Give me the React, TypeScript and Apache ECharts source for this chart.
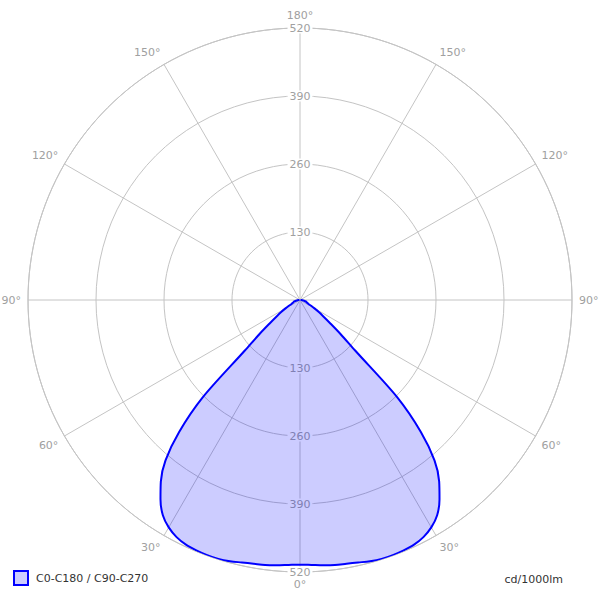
import React, { useEffect, useRef } from "react";
import * as echarts from "echarts";

// Gamma angles (deg, 0 = straight down) and luminous intensity (cd/1000lm)
const gammaAngles = [
  0, 2.5, 5, 7.5, 10, 12.5, 15, 17.5, 20, 22.5, 25, 27.5, 30, 32.5, 35, 37.5,
  40, 42.5, 45, 47.5, 50, 52.5, 55, 57.5, 60, 62.5, 65, 67.5, 70, 72.5, 75,
  77.5, 80, 82.5, 85, 87.5, 90,
];
const intensity = [
  506, 507, 509, 511, 512, 514, 517, 519, 519, 518, 516, 511, 502, 488, 465,
  437, 400, 342, 262, 143, 101, 72, 54, 42, 32, 24, 18, 16, 14, 13, 12, 10, 8,
  6, 5, 3, 1,
];
const radiusTicks = [0, 130, 260, 390, 520];
const seriesName = "C0-C180 / C90-C270";
const unitLabel = "cd/1000lm";

const FONT = "DejaVu Sans";

export default function App() {
  const ref = useRef<HTMLDivElement>(null);

  useEffect(() => {
    if (!ref.current) return;
    const chart = echarts.init(ref.current, undefined, { renderer: "svg" });

    // Build closed outline: left half (90 -> 0), then right half (mirrored)
    const data: [number, number][] = [];
    for (let i = gammaAngles.length - 1; i >= 0; i--) {
      data.push([intensity[i], gammaAngles[i]]);
    }
    for (let i = 1; i < gammaAngles.length; i++) {
      data.push([intensity[i], 360 - gammaAngles[i]]);
    }

    const rMax = radiusTicks[radiusTicks.length - 1];
    const rInt = radiusTicks[1] - radiusTicks[0];

    const gridColor = "#c4c4c4";
    const labelColor = "#a0a0a0";

    const radiusLabel = {
      margin: 0,
      align: "center",
      verticalAlign: "middle",
      color: labelColor,
      fontFamily: FONT,
      fontSize: 11,
      backgroundColor: "#ffffff",
      padding: [0, 2],
      showMinLabel: false,
      formatter: (v: number) => (v === 0 ? "" : String(v)),
    };

    chart.setOption({
      animation: false,
      backgroundColor: "#ffffff",
      polar: [
        { center: [300, 300], radius: 272 },
        { center: [300, 300], radius: 272 },
      ],
      angleAxis: [
        {
          polarIndex: 0,
          type: "value",
          min: 0,
          max: 360,
          interval: 30,
          startAngle: 270,
          clockwise: true,
          axisLine: { show: true, lineStyle: { color: gridColor, width: 1 } },
          axisTick: { show: false },
          splitLine: { show: true, lineStyle: { color: gridColor, width: 1 } },
          axisLabel: {
            margin: 7,
            color: labelColor,
            fontFamily: FONT,
            fontSize: 11,
            formatter: (v: number) => (v <= 180 ? v : 360 - v) + "°",
          },
        },
        {
          polarIndex: 1,
          type: "value",
          min: 0,
          max: 360,
          startAngle: 90,
          show: false,
        },
      ],
      radiusAxis: [
        {
          polarIndex: 0,
          type: "value",
          min: 0,
          max: rMax,
          interval: rInt,
          z: 1,
          axisLine: { show: false },
          axisTick: { show: false },
          splitLine: { show: true, lineStyle: { color: gridColor, width: 1 } },
          axisLabel: radiusLabel,
        },
        {
          polarIndex: 1,
          type: "value",
          min: 0,
          max: rMax,
          interval: rInt,
          z: 1,
          axisLine: { show: false },
          axisTick: { show: false },
          splitLine: { show: false },
          axisLabel: radiusLabel,
        },
      ],
      legend: {
        left: 8,
        top: 565,
        itemWidth: 14,
        itemHeight: 14,
        textStyle: {
          fontFamily: FONT,
          fontSize: 11,
          color: "#333333",
          padding: [0, 0, 0, 3],
        },
        data: [
          {
            name: seriesName,
            icon: "rect",
            itemStyle: {
              color: "#ccccff",
              borderColor: "#0000ff",
              borderWidth: 2,
            },
          },
        ],
      },
      title: {
        text: unitLabel,
        right: 32,
        top: 569,
        textStyle: {
          fontFamily: FONT,
          fontSize: 11,
          fontWeight: "normal",
          color: "#333333",
        },
      },
      series: [
        {
          name: seriesName,
          type: "line",
          coordinateSystem: "polar",
          polarIndex: 0,
          z: 2,
          showSymbol: false,
          symbol: "none",
          smooth: 0.3,
          lineStyle: { color: "#0000ff", width: 2, join: "round" },
          itemStyle: { color: "#0000ff" },
          areaStyle: { color: "#0000ff", opacity: 0.2 },
          data,
        },
      ],
    });

    return () => chart.dispose();
  }, []);

  return (
    <div
      ref={ref}
      style={{ position: "fixed", left: 0, top: 0, width: 600, height: 600 }}
    />
  );
}
